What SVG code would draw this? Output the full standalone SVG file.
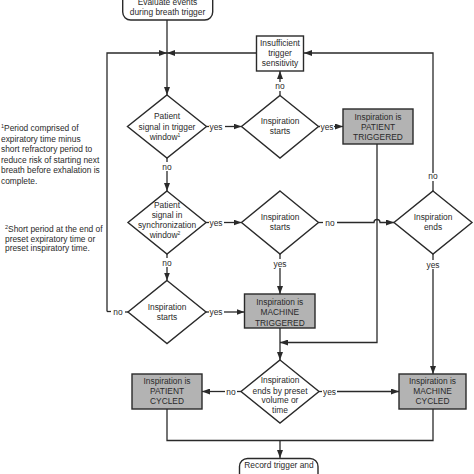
<svg xmlns="http://www.w3.org/2000/svg" width="474" height="474" viewBox="0 0 474 474">
<defs>
<marker id="ah" markerUnits="userSpaceOnUse" markerWidth="8" markerHeight="6" refX="8" refY="3" orient="auto">
<path d="M0,0 L8,3 L0,6 z" fill="#2a2a2a"/>
</marker>
<style>
text{font-family:"Liberation Sans",Arial,sans-serif;font-size:8.4px;fill:#2a2a2a;text-anchor:middle}
.fn{text-anchor:start}
.sh{fill:#fff;stroke:#2a2a2a;stroke-width:1.4}
.g{fill:#b3b3b3;stroke:#2a2a2a;stroke-width:1.4}
.ln{fill:none;stroke:#2a2a2a;stroke-width:1.3}
.ar{marker-end:url(#ah)}
sup{font-size:5px}
</style>
</defs>
<rect width="474" height="474" fill="#fff"/>

<g id="footnotes">
<text class="fn" x="1" y="131"><tspan font-size="5.5" dy="-3">1</tspan><tspan dy="3">Period comprised of</tspan></text>
<text class="fn" x="1" y="141.5">expiratory time minus</text>
<text class="fn" x="1" y="152">short refractory period to</text>
<text class="fn" x="1" y="162.5">reduce risk of starting next</text>
<text class="fn" x="1" y="173">breath before exhalation is</text>
<text class="fn" x="1" y="183.5">complete.</text>
<text class="fn" x="5" y="232"><tspan font-size="5.5" dy="-3">2</tspan><tspan dy="3">Short period at the end of</tspan></text>
<text class="fn" x="5" y="241.7">preset expiratory time or</text>
<text class="fn" x="5" y="251.4">preset inspiratory time.</text>
</g>

<g id="connectors">
<path class="ln ar" d="M167,20 V95"/>
<path class="ln ar" d="M107,311.5 V53 H167"/>
<path class="ln ar" d="M256.5,53 H167"/>
<path class="ln ar" d="M433,173 V53 H304"/>
<path class="ln" d="M433,181 V191"/>
<path class="ln" d="M206.5,126.5 H209"/>
<path class="ln ar" d="M225,126.5 H241.5"/>
<path class="ln ar" d="M280,82 V71"/>
<path class="ln" d="M280,95.5 V91"/>
<path class="ln" d="M318.5,126.5 H320"/>
<path class="ln ar" d="M334,126.5 H343"/>
<path class="ln" d="M167,158 V162"/>
<path class="ln ar" d="M167,171 V191"/>
<path class="ln" d="M206,222.5 H209"/>
<path class="ln ar" d="M224,222.5 H241.5"/>
<path class="ln" d="M318.5,222.5 H323"/>
<path class="ln ar" d="M337,222.5 H374 A3,3 0 0 1 380,222.5 H394"/>
<path class="ln" d="M280,254 V259"/>
<path class="ln ar" d="M280,268 V294"/>
<path class="ln" d="M433,254 V260"/>
<path class="ln ar" d="M433,269 V374"/>
<path class="ln" d="M167,254 V258"/>
<path class="ln ar" d="M167,267 V280.5"/>
<path class="ln" d="M128,312 H125"/>
<path class="ln" d="M111,311.5 H107"/>
<path class="ln" d="M206,312 H209"/>
<path class="ln ar" d="M224,312 H244.5"/>
<path class="ln ar" d="M377,144 V342.5 H280"/>
<path class="ln ar" d="M280,328 V360"/>
<path class="ln" d="M319,391.5 H322"/>
<path class="ln ar" d="M337,391.5 H399"/>
<path class="ln" d="M241,391.5 H237"/>
<path class="ln ar" d="M225,391.5 H202"/>
<path class="ln" d="M167,409 V440.5 H433 V409"/>
<path class="ln ar" d="M280,440.5 V458"/>
<text x="216" y="129.5">yes</text>
<text x="280" y="89">no</text>
<text x="327" y="129.5">yes</text>
<text x="167" y="169.5">no</text>
<text x="216" y="225.5">yes</text>
<text x="330" y="225.5">no</text>
<text x="280" y="266.5">yes</text>
<text x="167" y="266">no</text>
<text x="433" y="179">no</text>
<text x="433" y="267.5">yes</text>
<text x="118" y="314.5">no</text>
<text x="216" y="315">yes</text>
<text x="329.5" y="394.5">yes</text>
<text x="231" y="394.5">no</text>
</g>

<g id="start">
<rect class="sh" x="122.7" y="-12" width="90" height="32" rx="8"/>
<text x="167.5" y="4.5">Evaluate events</text>
<text x="167.5" y="14.5">during breath trigger</text>
</g>

<g id="insufficient">
<rect class="sh" x="256.5" y="36" width="47" height="35"/>
<text x="280" y="46.3">Insufficient</text>
<text x="280" y="56.3">trigger</text>
<text x="280" y="66.3">sensitivity</text>
</g>

<g id="d1">
<polygon class="sh" points="167,95 206.5,126.5 167,158 127.5,126.5"/>
<text x="167" y="119">Patient</text>
<text x="167" y="129.7">signal in trigger</text>
<text x="165" y="140">window<tspan font-size="5" dy="-3">1</tspan></text>
</g>

<g id="d2">
<polygon class="sh" points="280,95.5 318.5,126.5 280,158 241.5,126.5"/>
<text x="280" y="123.7">Inspiration</text>
<text x="280" y="134">starts</text>
</g>

<g id="patient-triggered">
<rect class="g" x="343" y="109" width="70" height="35"/>
<text x="378" y="119.7">Inspiration is</text>
<text x="378" y="129.7">PATIENT</text>
<text x="378" y="139.7">TRIGGERED</text>
</g>

<g id="d3">
<polygon class="sh" points="167,191 206,222.5 167,254 128,222.5"/>
<text x="167" y="208">Patient</text>
<text x="167" y="218">signal in</text>
<text x="167" y="228.3">synchronization</text>
<text x="165" y="238.3">window<tspan font-size="5" dy="-3">2</tspan></text>
</g>

<g id="d4">
<polygon class="sh" points="280,191 318.5,222.5 280,254 241.5,222.5"/>
<text x="280" y="219.7">Inspiration</text>
<text x="280" y="230.3">starts</text>
</g>

<g id="d-ends">
<polygon class="sh" points="433,191 472,222.5 433,254 394,222.5"/>
<text x="433" y="219.7">Inspiration</text>
<text x="433" y="230.3">ends</text>
</g>

<g id="d5">
<polygon class="sh" points="167,280.5 206,312 167,343.5 128,312"/>
<text x="167" y="309.7">Inspiration</text>
<text x="167" y="320.3">starts</text>
</g>

<g id="machine-triggered">
<rect class="g" x="244.5" y="294" width="70.5" height="34"/>
<text x="279.8" y="304.7">Inspiration is</text>
<text x="279.8" y="315">MACHINE</text>
<text x="279.8" y="325.5">TRIGGERED</text>
</g>

<g id="d6">
<polygon class="sh" points="280,360 319,391.5 280,423 241,391.5"/>
<text x="280" y="383">Inspiration</text>
<text x="280" y="393.7">ends by preset</text>
<text x="280" y="403.3">volume or</text>
<text x="280" y="413">time</text>
</g>

<g id="patient-cycled">
<rect class="g" x="132" y="374" width="70" height="35"/>
<text x="167" y="384">Inspiration is</text>
<text x="167" y="394">PATIENT</text>
<text x="167" y="404">CYCLED</text>
</g>

<g id="machine-cycled">
<rect class="g" x="399" y="374" width="67" height="35"/>
<text x="432.5" y="384">Inspiration is</text>
<text x="432.5" y="394">MACHINE</text>
<text x="432.5" y="404">CYCLED</text>
</g>

<g id="record">
<rect class="sh" x="239.5" y="458.5" width="78.5" height="30" rx="8"/>
<text x="279" y="468">Record trigger and</text>
</g>
</svg>
